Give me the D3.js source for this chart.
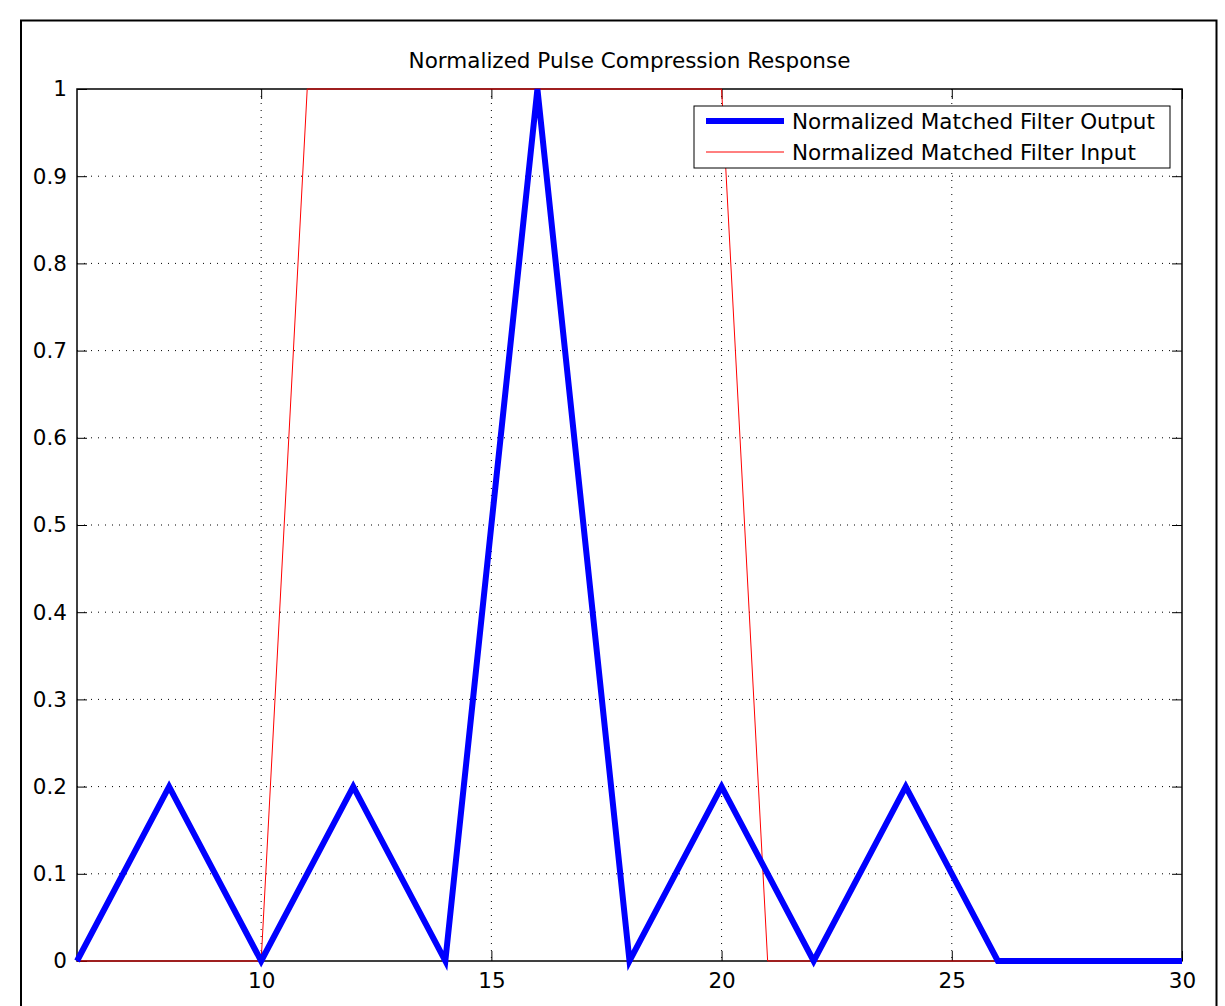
<!DOCTYPE html>
<html><head><meta charset="utf-8">
<script src="https://cdn.jsdelivr.net/npm/d3@7"></script>
<style>body{margin:0;background:#fff}text{font-family:"DejaVu Sans",sans-serif}</style>
</head><body><svg id="c" width="1225" height="1006"></svg>
<script>
const outputX=[6,8,10,12,14,16,18,20,22,24,26,30];
const outputY=[0,0.2,0,0.2,0,1,0,0.2,0,0.2,0,0];
const inputX=[6,10,11,20,21,30];
const inputY=[0,0,1,1,0,0];
const xTicks=[10,15,20,25,30];
const yTicks=[0,0.1,0.2,0.3,0.4,0.5,0.6,0.7,0.8,0.9,1];
const svg=d3.select("#c");
const L=77,R=1182,T=89,B=961;
const FS=21.5;
const x=d3.scaleLinear().domain([6,30]).range([L,R]);
const y=d3.scaleLinear().domain([0,1]).range([B,T]);
svg.append("path").attr("d",`M21,1006V20.5H1216.5V1006`).attr("fill","none").attr("stroke","#000").attr("stroke-width",2);
const g=svg.append("g");
xTicks.forEach(t=>{if(t<30)g.append("line").attr("x1",x(t)).attr("x2",x(t)).attr("y1",T).attr("y2",B).attr("stroke","#000").attr("stroke-dasharray","1,6");});
yTicks.forEach(t=>{if(t>0&&t<1)g.append("line").attr("x1",L).attr("x2",R).attr("y1",y(t)).attr("y2",y(t)).attr("stroke","#000").attr("stroke-dasharray","1,6");});
svg.append("g").attr("transform",`translate(0,${B})`).call(d3.axisBottom(x).tickValues(xTicks).tickSize(-10).tickPadding(12).tickFormat(d3.format("d")))
 .call(a=>{a.select(".domain").remove();a.attr("font-size",FS).attr("font-family","DejaVu Sans");});
svg.append("g").attr("transform",`translate(${L},0)`).call(d3.axisLeft(y).tickValues(yTicks).tickSize(-10).tickPadding(10).tickFormat(d=>d===0||d===1?d3.format("d")(d):d3.format(".1f")(d)))
 .call(a=>{a.select(".domain").remove();a.attr("font-size",FS).attr("font-family","DejaVu Sans");});
svg.append("g").attr("transform",`translate(${R},0)`).call(d3.axisRight(y).tickValues(yTicks).tickSize(-10).tickFormat(""))
 .call(a=>a.select(".domain").remove());
svg.append("g").attr("transform",`translate(0,${T})`).call(d3.axisTop(x).tickValues(xTicks).tickSize(-10).tickFormat(""))
 .call(a=>a.select(".domain").remove());
svg.append("rect").attr("x",L).attr("y",T).attr("width",R-L).attr("height",B-T).attr("fill","none").attr("stroke","#000").attr("stroke-width",1.5);
const line=d3.line().x(d=>x(d[0])).y(d=>y(d[1]));
svg.append("path").attr("d",line(inputX.map((v,i)=>[v,inputY[i]]))).attr("fill","none").attr("stroke","#f00").attr("stroke-width",1);
svg.append("path").attr("d",line(outputX.map((v,i)=>[v,outputY[i]]))).attr("fill","none").attr("stroke","#0000ff").attr("stroke-width",6);
svg.append("text").attr("x",(L+R)/2).attr("y",68).attr("text-anchor","middle").attr("font-size",FS).text("Normalized Pulse Compression Response");
const lg=svg.append("g");
lg.append("rect").attr("x",694).attr("y",106).attr("width",476).attr("height",62).attr("fill","#fff").attr("stroke","#000").attr("stroke-width",1);
lg.append("line").attr("x1",706).attr("x2",784).attr("y1",121).attr("y2",121).attr("stroke","#0000ff").attr("stroke-width",6);
lg.append("line").attr("x1",706).attr("x2",784).attr("y1",152).attr("y2",152).attr("stroke","#f00").attr("stroke-width",1);
lg.append("text").attr("x",792).attr("y",129).attr("font-size",FS).text("Normalized Matched Filter Output");
lg.append("text").attr("x",792).attr("y",160).attr("font-size",FS).text("Normalized Matched Filter Input");
</script></body></html>
